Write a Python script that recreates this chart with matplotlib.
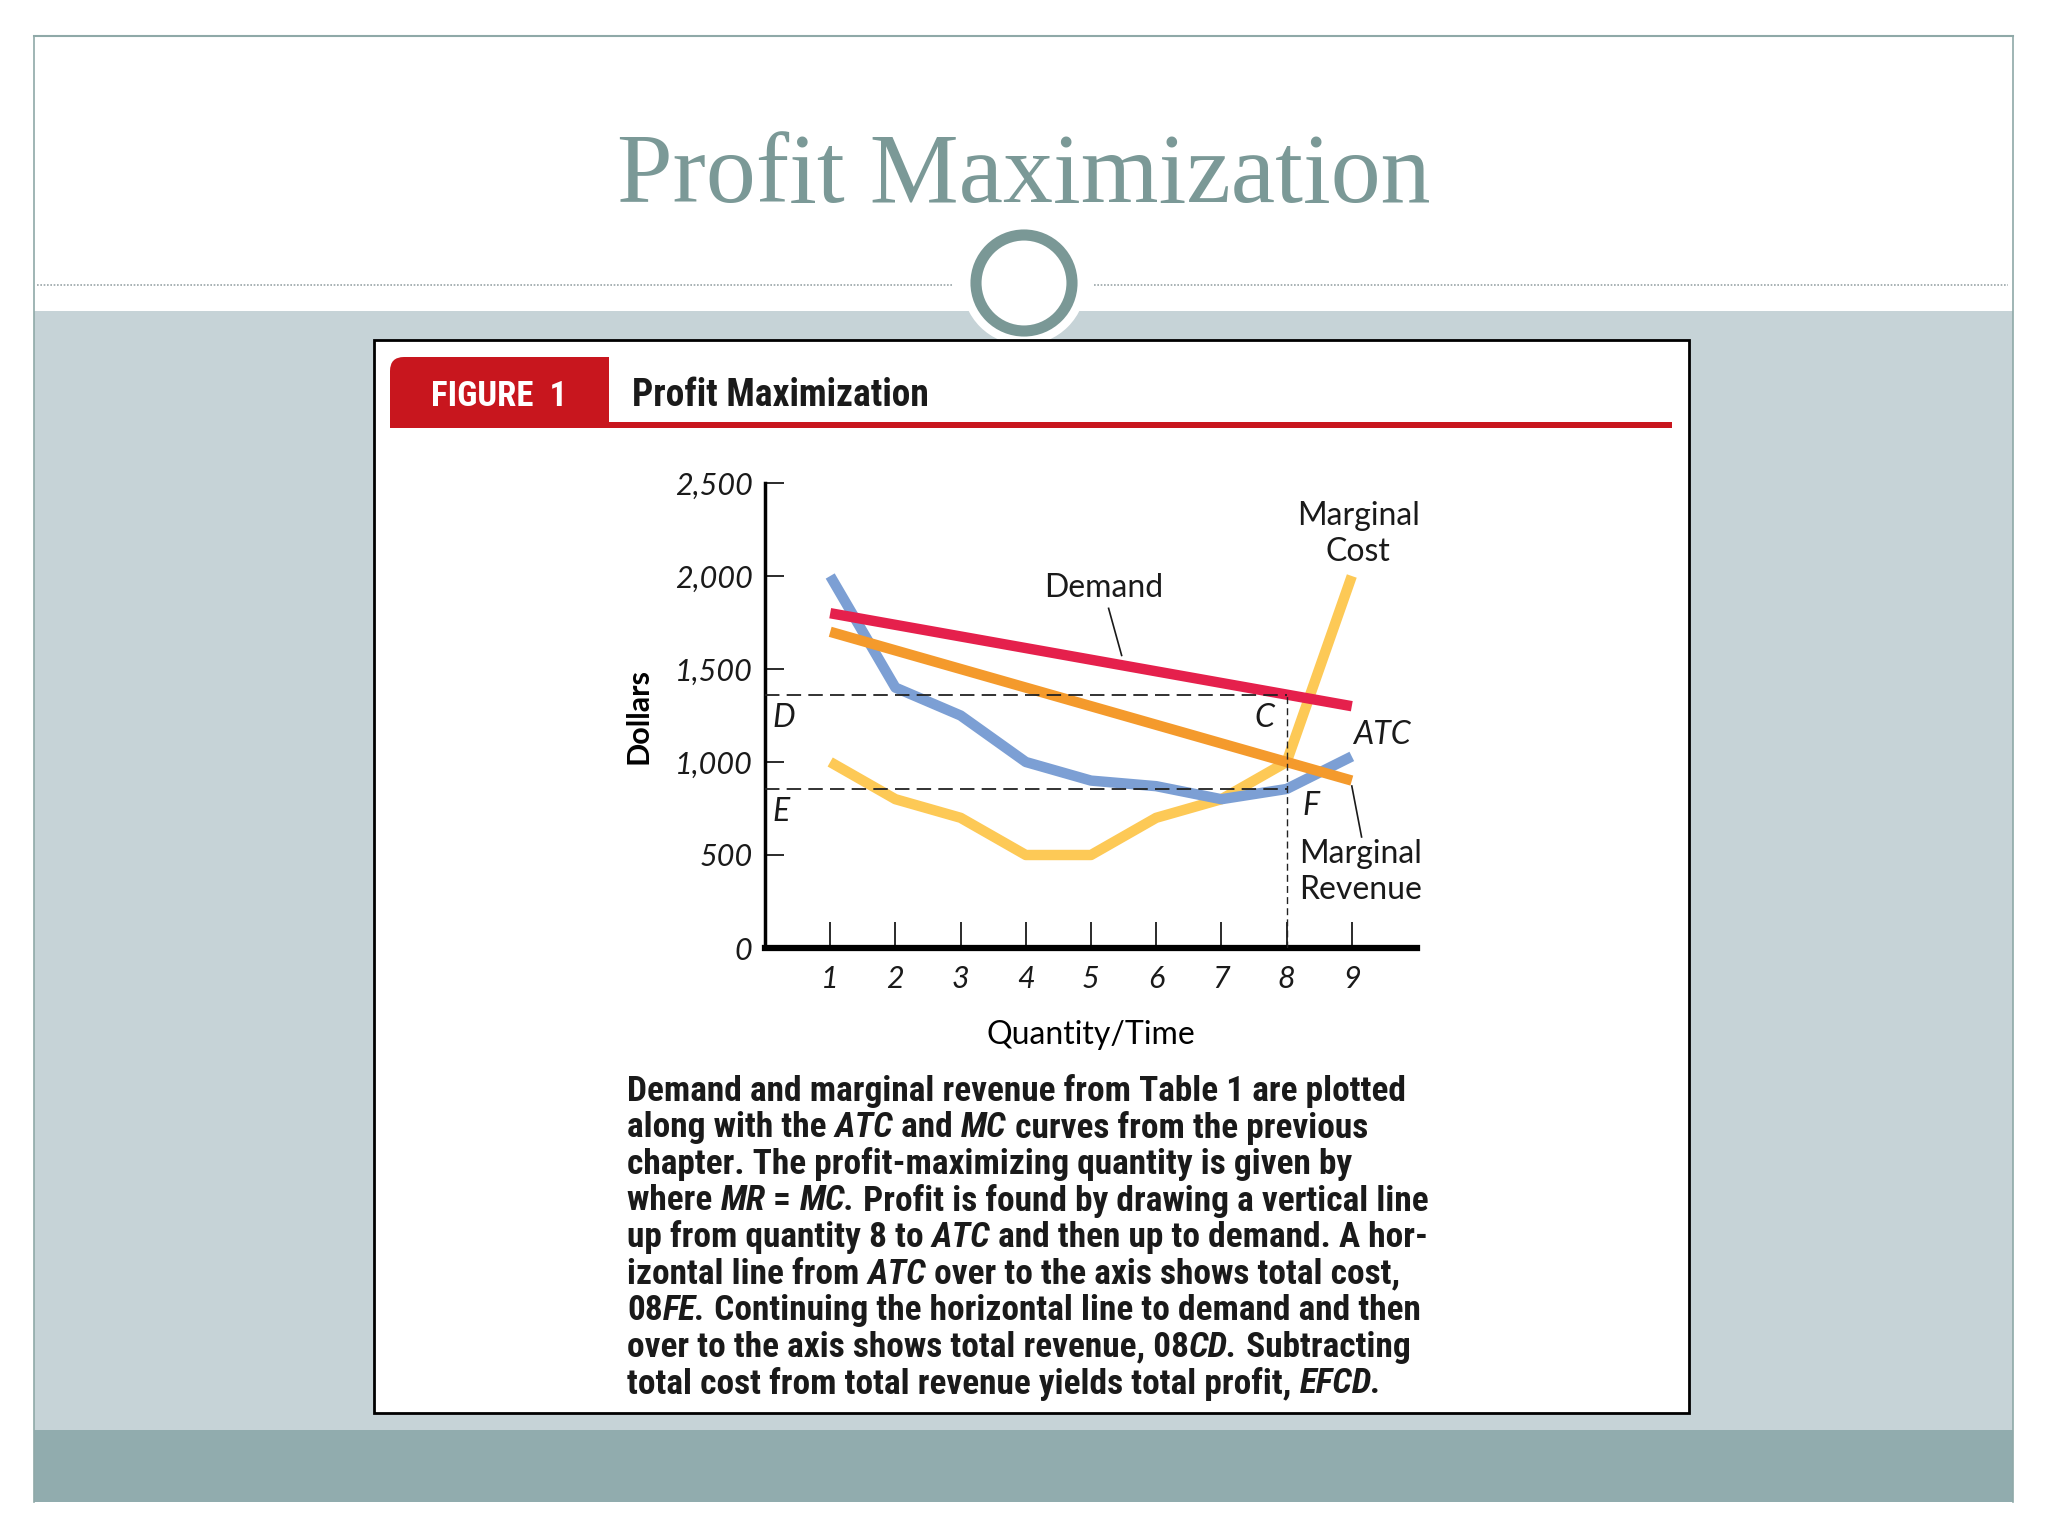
import matplotlib
matplotlib.use("Agg")
from matplotlib import pyplot as plt
from matplotlib import font_manager
from matplotlib.patches import Rectangle, Circle, FancyBboxPatch

# data
quantity = [1, 2, 3, 4, 5, 6, 7, 8, 9]
demand = [1800, 1737.5, 1675, 1612.5, 1550, 1487.5, 1425, 1362.5, 1300]
marginal_revenue = [1700, 1600, 1500, 1400, 1300, 1200, 1100, 1000, 900]
atc = [2000, 1400, 1250, 1000, 900, 870, 800, 855, 1030]
marginal_cost = [1000, 800, 700, 500, 500, 700, 800, 1000, 2000]
y_ticks = [0, 500, 1000, 1500, 2000, 2500]
y_tick_labels = ['0', '500', '1,000', '1,500', '2,000', '2,500']
q_star = 8

caption = [
    [("Demand and marginal revenue from Table 1 are plotted", 0)],
    [("along with the ", 0), ("ATC", 1), (" and ", 0), ("MC", 1), (" curves from the previous", 0)],
    [("chapter. The profit-maximizing quantity is given by", 0)],
    [("where ", 0), ("MR", 1), (" = ", 0), ("MC.", 1), (" Profit is found by drawing a vertical line", 0)],
    [("up from quantity 8 to ", 0), ("ATC", 1), (" and then up to demand. A hor-", 0)],
    [("izontal line from ", 0), ("ATC", 1), (" over to the axis shows total cost,", 0)],
    [("08", 0), ("FE.", 1), (" Continuing the horizontal line to demand and then", 0)],
    [("over to the axis shows total revenue, 08", 0), ("CD.", 1), (" Subtracting", 0)],
    [("total cost from total revenue yields total profit, ", 0), ("EFCD.", 1)],
]

names = {f.name for f in font_manager.fontManager.ttflist}
def pick(*fams):
    for f in fams:
        if f in names:
            return f
    return 'DejaVu Sans'

narrow = pick('Liberation Sans Narrow', 'Roboto Condensed', 'Roboto')
chart_font = pick('Lato', 'Open Sans', 'DejaVu Sans')
serif = pick('Liberation Serif', 'DejaVu Serif')

W, H = 2048, 1536
fig = plt.figure(figsize=(20.48, 15.36), dpi=100)
fig.patch.set_facecolor('white')

# slide decoration, pixel coordinates from top-left
bg = fig.add_axes([0, 0, 1, 1])
bg.set_xlim(0, W)
bg.set_ylim(H, 0)
bg.axis('off')

slide_edge = '#8fa9a8'
bg.add_patch(Rectangle((34, 311), 1979, 1119, fc='#c6d3d7', ec='none'))
bg.add_patch(Rectangle((34, 1430), 1979, 72, fc='#91acae', ec='none'))
bg.plot([34, 2013], [36, 36], color=slide_edge, lw=1.5)
bg.plot([34, 34], [36, 1502], color=slide_edge, lw=1.2)
bg.plot([2013, 2013], [36, 1502], color=slide_edge, lw=1.2)
bg.plot([37, 953], [285, 285], color='#9aa5a8', lw=1.2, ls=(0, (1, 1)))
bg.plot([1094, 2008], [285, 285], color='#9aa5a8', lw=1.2, ls=(0, (1, 1)))
bg.add_patch(Circle((1024, 283), 62, fc='white', ec='none'))
bg.add_patch(Circle((1024, 283), 48, fill=False, ec='#7a9896', lw=8))
bg.text(1024, 178, 'Profit Maximization', family=serif, fontsize=72,
        color='#7b9997', ha='center', va='center')

# figure panel
bg.add_patch(Rectangle((374, 340), 1315, 1073, fc='white', ec='none'))
red = '#c8161e'
bg.add_patch(FancyBboxPatch((390, 357), 219, 90, boxstyle='round,pad=0,rounding_size=14',
                            fc=red, ec='none'))
bg.add_patch(Rectangle((500, 357), 109, 70, fc=red, ec='none'))
bg.add_patch(Rectangle((380, 428), 1300, 30, fc='white', ec='none'))
bg.add_patch(Rectangle((390, 422), 1282, 6, fc=red, ec='none'))
bg.add_patch(Rectangle((374, 340), 1315, 1073, fill=False, ec='black', lw=2))
bg.text(499, 397, 'FIGURE  1', family=narrow, weight='bold', fontsize=25,
        color='white', ha='center', va='center')
bg.text(632, 395, 'Profit Maximization', family=narrow, weight='bold', fontsize=27,
        color='#1a1a1a', ha='left', va='center')

# caption with mixed italic pieces
renderer = fig.canvas.get_renderer()
cap_size = 25.5
def seg_width(s, style):
    a = bg.text(0, 0, '|' + s + '|', family=narrow, weight='bold', style=style, fontsize=cap_size)
    b = bg.text(0, 0, '||', family=narrow, weight='bold', style=style, fontsize=cap_size)
    w = a.get_window_extent(renderer).width - b.get_window_extent(renderer).width
    a.remove()
    b.remove()
    return w

for i, line in enumerate(caption):
    x = 627
    y = 1091 + i * 36.6
    for s, it in line:
        style = 'italic' if it else 'normal'
        bg.text(x, y, s, family=narrow, weight='bold', style=style, fontsize=cap_size,
                color='#1a1a1a', ha='left', va='center')
        x += seg_width(s, style)

# the chart itself
ax = fig.add_axes([765 / W, 1 - 948 / H, (1417 - 765) / W, (948 - 483) / H])
ax.set_facecolor('none')
ax.set_xlim(0, 10)
ax.set_ylim(0, 2500)

lw = 7.5
ax.plot(quantity, marginal_cost, color='#fdc956', lw=lw, solid_capstyle='butt', zorder=2)
ax.plot(quantity, atc, color='#7c9fd4', lw=lw, solid_capstyle='butt', zorder=3)
ax.plot(quantity, marginal_revenue, color='#f49a2c', lw=lw, solid_capstyle='butt', zorder=4)
ax.plot(quantity, demand, color='#e5204c', lw=lw, solid_capstyle='butt', zorder=5)

p_star = demand[quantity.index(q_star)]
c_star = atc[quantity.index(q_star)]
ax.plot([0, q_star], [p_star, p_star], color='#222222', lw=1.3, ls=(0, (8, 4)), zorder=6)
ax.plot([0, q_star], [c_star, c_star], color='#222222', lw=1.3, ls=(0, (8, 4)), zorder=6)
ax.plot([q_star, q_star], [0, p_star], color='#222222', lw=1.0, ls=(0, (5, 3)), zorder=6)

lab = dict(family=chart_font, fontsize=23, color='#1a1a1a')
ax.text(0.12, 1236, 'D', style='italic', ha='left', va='center', **lab)
ax.text(7.5, 1236, 'C', style='italic', ha='left', va='center', **lab)
ax.text(0.12, 730, 'E', style='italic', ha='left', va='center', **lab)
ax.text(8.25, 765, 'F', style='italic', ha='left', va='center', **lab)
ax.text(9.02, 1145, 'ATC', style='italic', ha='left', va='center', **lab)
ax.text(5.2, 1938, 'Demand', ha='center', va='center', **lab)
ax.plot([5.27, 5.47], [1826, 1573], color='#1a1a1a', lw=1.2)
ax.text(9.1, 2226, 'Marginal\nCost', ha='center', va='center', linespacing=1.25, **lab)
ax.text(9.13, 407, 'Marginal\nRevenue', ha='center', va='center', linespacing=1.25, **lab)
ax.plot([9.0, 9.15], [871, 597], color='#1a1a1a', lw=1.2)

ax.set_xticks(quantity)
ax.set_xticklabels([str(q) for q in quantity], family=chart_font, style='italic', fontsize=22)
ax.set_yticks(y_ticks)
ax.set_yticklabels(y_tick_labels, family=chart_font, style='italic', fontsize=22)
ax.tick_params(axis='x', direction='in', length=19, width=1.3, pad=12, colors='#1a1a1a')
ax.tick_params(axis='y', direction='in', length=14, width=1.3, pad=9, colors='#1a1a1a')
for s in ['top', 'right']:
    ax.spines[s].set_visible(False)
ax.spines['left'].set_linewidth(2.5)
ax.spines['bottom'].set_linewidth(4.5)
ax.set_xlabel('Quantity/Time', family=chart_font, fontsize=23, labelpad=20)
ax.set_ylabel('Dollars', family=chart_font, weight='bold', fontsize=22, labelpad=16)

fig.savefig('out.png', dpi=100)
